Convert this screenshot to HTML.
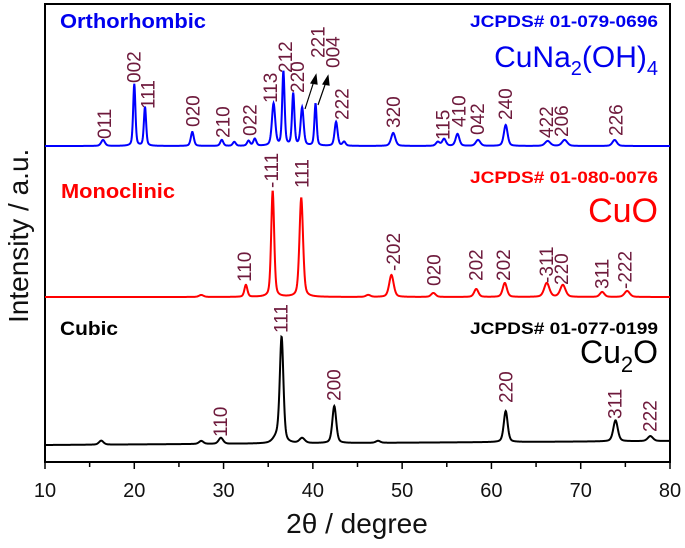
<!DOCTYPE html>
<html><head><meta charset="utf-8"><style>
html,body{margin:0;padding:0;background:#fff;}
svg{display:block;font-family:"Liberation Sans",sans-serif;}
</style></head><body>
<svg id="chart" width="685" height="548" viewBox="0 0 685 548">
<rect x="45" y="4" width="625" height="458" fill="none" stroke="#000" stroke-width="2"/>
<g id="series"></g>
<g id="labels"></g>
<g id="axis"></g>
<text transform="translate(28,323) rotate(-90)" font-size="28" fill="#111">Intensity / a.u.</text>
<text x="357" y="533" text-anchor="middle" font-size="28" fill="#111">2θ / degree</text>

<text x="60" y="28" font-size="20" font-weight="bold" fill="#0000ee" textLength="146" lengthAdjust="spacingAndGlyphs">Orthorhombic</text>
<text x="470" y="27" font-size="17" font-weight="bold" fill="#0000ee" textLength="188" lengthAdjust="spacingAndGlyphs">JCPDS# 01-079-0696</text>
<text x="658" y="67" text-anchor="end" font-size="30" fill="#0000ee">CuNa<tspan font-size="20" dy="8">2</tspan><tspan dy="-8">(OH)</tspan><tspan font-size="20" dy="8">4</tspan></text>

<text x="61" y="198" font-size="20" font-weight="bold" fill="#ff0000" textLength="114" lengthAdjust="spacingAndGlyphs">Monoclinic</text>
<text x="470" y="183" font-size="17" font-weight="bold" fill="#ff0000" textLength="188" lengthAdjust="spacingAndGlyphs">JCPDS# 01-080-0076</text>
<text x="658" y="222" text-anchor="end" font-size="34" fill="#ff0000">CuO</text>

<text x="60" y="335" font-size="19" font-weight="bold" fill="#000" textLength="58" lengthAdjust="spacingAndGlyphs">Cubic</text>
<text x="470" y="334" font-size="17" font-weight="bold" fill="#000" textLength="188" lengthAdjust="spacingAndGlyphs">JCPDS# 01-077-0199</text>
<text x="658" y="363" text-anchor="end" font-size="32" fill="#000">Cu<tspan font-size="22" dy="9">2</tspan><tspan dy="-9">O</tspan></text>

<g stroke="#000" stroke-width="1.2">
<line x1="305" y1="109" x2="314" y2="81"/><polygon points="316,75 311,83 317,84" fill="#000"/>
<line x1="318" y1="105" x2="326" y2="82"/><polygon points="328,76 323,84 329,85" fill="#000"/>
</g>
</svg>
<script>
// data
const blueBase = 146;
const bluePos = [16.5, 20.0, 21.2, 26.5, 29.8, 31.2, 32.8, 33.5, 35.6, 36.7, 37.8, 38.8, 40.3, 42.6, 43.5, 49.0, 54.0, 54.7, 56.2, 58.5, 61.6, 66.3, 68.2, 73.8];
const blueHeight = [6, 62, 39, 14, 6, 4, 5, 7, 42, 74, 52, 38, 42, 24, 4, 13, 4, 7, 12, 6, 21, 5, 6, 6];
const blueWidth = [0.25, 0.15, 0.15, 0.2, 0.2, 0.2, 0.2, 0.2, 0.22, 0.16, 0.16, 0.2, 0.15, 0.2, 0.2, 0.28, 0.25, 0.25, 0.25, 0.3, 0.25, 0.35, 0.35, 0.3];

const redBase = 297;
const redPos = [27.5, 32.5, 35.5, 38.7, 46.2, 48.8, 53.5, 58.3, 61.5, 66.2, 68.0, 72.4, 75.2];
const redHeight = [2, 12, 106, 99, 2, 22, 4, 8, 14, 14, 12, 5, 6];
const redWidth = [0.3, 0.2, 0.2, 0.24, 0.3, 0.3, 0.3, 0.28, 0.28, 0.35, 0.35, 0.3, 0.35];

const blackBaseLeft = 445;
const blackBaseRight = 441;
const blackPos = [16.3, 27.5, 29.7, 36.0, 36.5, 38.8, 42.4, 47.3, 61.6, 73.9, 77.8];
const blackHeight = [4, 3, 6, 6, 104, 5, 37, 2, 31, 21, 5];
const blackWidth = [0.3, 0.3, 0.3, 0.5, 0.24, 0.35, 0.26, 0.3, 0.26, 0.3, 0.35];

const xTicks = [10, 20, 30, 40, 50, 60, 70, 80];

const blueLabels = ["011","002","111","020","210","022","113","212","220","221","004","222","320","115","410","042","240","422","206","226"];
const blueLabelX = [16.6, 19.9, 21.5, 26.5, 29.9, 32.9, 35.2, 36.9, 38.2, 40.5, 42.2, 43.2, 49.0, 54.5, 56.3, 58.4, 61.5, 66.1, 67.8, 73.9];
const blueLabelY = [139, 83, 109, 127, 138, 136, 103, 73, 93, 58, 68, 120, 128, 140, 127, 135, 120, 138, 137, 136];

const redLabels = ["110","-111","111","-202","020","202","202","-311","220","311","-222"];
const redLabelX = [32.3, 35.3, 38.7, 49.0, 53.5, 58.2, 61.3, 66.1, 67.8, 72.3, 74.9];
const redLabelY = [282, 188, 188, 271, 286, 281, 281, 283, 285, 289, 289];

const blackLabels = ["110","111","200","220","311","222"];
const blackLabelX = [29.6, 36.4, 42.3, 61.6, 73.8, 77.7];
const blackLabelY = [437, 333, 401, 403, 419, 432];

const NS = "http://www.w3.org/2000/svg";
const x = d => 45 + (d - 10) * (625 / 70);

function curve(pos, hts, wds, baseL, baseR){
  let pts = [];
  for (let d = 10; d <= 80.001; d += 0.04) {
    let base = baseL + (baseR - baseL) * (d - 10) / 70;
    let y = 0;
    for (let i = 0; i < pos.length; i++) {
      const t = (d - pos[i]) / wds[i];
      y += hts[i] * (0.6 * Math.exp(-t * t * 0.7) + 0.4 / (1 + t * t));
    }
    pts.push(x(d).toFixed(2) + "," + (base - y).toFixed(2));
  }
  return pts.join(" ");
}
const series = document.getElementById("series");
function addLine(name, pts, color){
  const p = document.createElementNS(NS, "polyline");
  p.setAttribute("points", pts);
  p.setAttribute("fill", "none");
  p.setAttribute("stroke", color);
  p.setAttribute("stroke-width", "2");
  
  
  series.appendChild(p);
}
addLine("cuna2oh4-pattern", curve(bluePos, blueHeight, blueWidth, blueBase, blueBase), "#0000ff");
addLine("cuo-pattern", curve(redPos, redHeight, redWidth, redBase, redBase), "#ff0000");
addLine("cu2o-pattern", curve(blackPos, blackHeight, blackWidth, blackBaseLeft, blackBaseRight), "#000");

const labels = document.getElementById("labels");
function addLabels(txts, xs, ys, color, group){
  for (let i = 0; i < txts.length; i++) {
    const t = document.createElementNS(NS, "text");
    t.setAttribute("transform", "translate(" + (x(xs[i]) + 7) + "," + ys[i] + ") rotate(-90)");
    t.setAttribute("font-size", "19");
    t.setAttribute("fill", color);
    t.textContent = txts[i];
    
    
    labels.appendChild(t);
  }
}
addLabels(blueLabels, blueLabelX, blueLabelY, "#6e1a3c", "cuna2oh4");
addLabels(redLabels, redLabelX, redLabelY, "#6e1a3c", "cuo");
addLabels(blackLabels, blackLabelX, blackLabelY, "#6e1a3c", "cu2o");

const axis = document.getElementById("axis");
for (let d = 10; d <= 80; d += 5) {
  const l = document.createElementNS(NS, "line");
  const major = d % 10 === 0;
  l.setAttribute("x1", x(d)); l.setAttribute("x2", x(d));
  l.setAttribute("y1", 462); l.setAttribute("y2", major ? 469 : 467);
  l.setAttribute("stroke", "#000"); l.setAttribute("stroke-width", "1.5");
  
  
  axis.appendChild(l);
}
xTicks.forEach(v => {
  const t = document.createElementNS(NS, "text");
  t.setAttribute("x", x(v)); t.setAttribute("y", 497);
  t.setAttribute("text-anchor", "middle");
  t.setAttribute("font-size", "20");
  t.setAttribute("fill", "#111");
  t.textContent = v;
  
  
  axis.appendChild(t);
});
</script>
</body></html>
